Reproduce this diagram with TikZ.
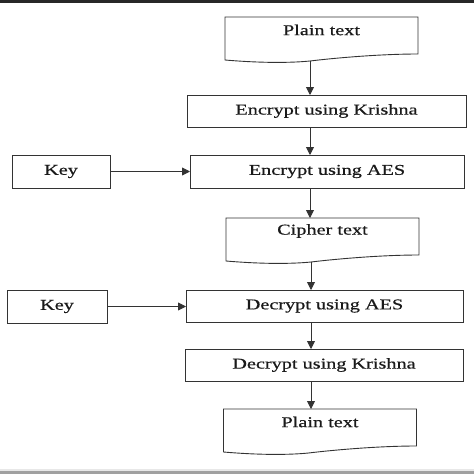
\documentclass[tikz,border=0pt]{standalone}
\usepackage{fontspec}
\newfontfamily\diagfont[FakeStretch=1.35,FakeBold=0.6]{Liberation Serif}
\usetikzlibrary{arrows.meta,calc}
\definecolor{linec}{HTML}{333333}
\definecolor{textc}{HTML}{1A1A1A}
\definecolor{topbar}{HTML}{282828}
\definecolor{botbar}{HTML}{A0A0A0}
\definecolor{botband}{HTML}{E8E8E8}
\tikzset{
  box/.style={draw=linec, line width=0.9pt},
  proc/.style={box, rectangle, outer sep=0pt, inner sep=0pt, minimum height=32pt, text=textc, font=\diagfont\fontsize{15}{18}\selectfont},
  docn/.style={rectangle, outer sep=0pt, inner sep=0pt, anchor=north, minimum width=193pt, minimum height=26pt, text=textc, font=\diagfont\fontsize{15}{18}\selectfont},
  arr/.style={draw=linec, line width=0.9pt, -{Triangle[length=8pt,width=8pt]}}
}
\newcommand\docoutline[1]{%
  \draw[box] (#1.north west) -- (#1.north east) -- ($(#1.north east)+(0,37)$)
   .. controls ($(#1.north west)+(155,37)$) and ($(#1.north west)+(110,41)$) .. ($(#1.north west)+(85,44)$)
   .. controls ($(#1.north west)+(65,46)$) and ($(#1.north west)+(35,46)$) .. ($(#1.north west)+(0,43)$) -- cycle;
  \coordinate (#1b) at ($(#1.north west)+(85,44)$);}
\begin{document}
\begin{tikzpicture}[x=1pt,y=-1pt]
\useasboundingbox (0,0) rectangle (474,474);
\fill[white] (0,0) rectangle (474,474);
\fill[topbar] (0,0) rectangle (474,2.7);
\fill[botband] (0,468.5) rectangle (474,471);
\fill[botbar] (0,471) rectangle (474,474);

\node[docn] (p1) at (321.5,17) {Plain text};
\docoutline{p1}
\node[proc, minimum width=279pt] (ek) at (326.5,111) {Encrypt using Krishna};
\node[proc, minimum width=274pt, minimum height=33pt] (ea) at (327,171.5) {Encrypt using AES};
\node[proc, minimum width=98pt, minimum height=33pt] (k1) at (61,171.5) {Key};
\node[docn] (ct) at (322.5,218) {Cipher text};
\docoutline{ct}
\node[proc, minimum width=277pt] (da) at (324.5,306) {Decrypt using AES};
\node[proc, minimum width=100pt, minimum height=33pt] (k2) at (57,306.5) {Key};
\node[proc, minimum width=278pt] (dk) at (324,365) {Decrypt using Krishna};
\node[docn] (p2) at (320,409) {Plain text};
\docoutline{p2}

\draw[arr] (p1b) -- (p1b |- ek.north);
\draw[arr] (ek.south -| p1b) -- (ea.north -| p1b);
\draw[arr] (ea.south -| p1b) -- (ct.north -| p1b);
\draw[arr] (k1.east) -- (k1.east -| ea.west);
\draw[arr] (ctb) -- (ctb |- da.north);
\draw[arr] (k2.east) -- (k2.east -| da.west);
\draw[arr] (da.south -| ctb) -- (dk.north -| ctb);
\draw[arr] (dk.south -| ctb) -- (p2.north -| ctb);
\end{tikzpicture}
\end{document}
